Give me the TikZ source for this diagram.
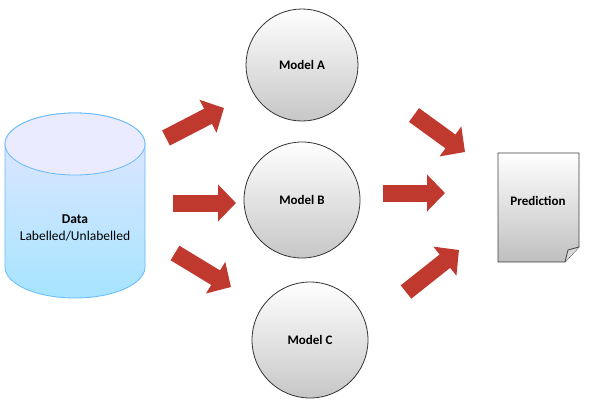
\documentclass[tikz,border=0pt]{standalone}
\usepackage{fontspec}
\setmainfont{Carlito}
\usetikzlibrary{arrows.meta}
\definecolor{brick}{HTML}{C0392F}
\begin{document}
\begin{tikzpicture}[x=1pt,y=-1pt,
  model/.style={circle,draw=black!80,line width=0.8pt,minimum size=112pt,top color=white,bottom color=black!22,font=\bfseries\fontsize{13}{15}\selectfont},
  blk/.style={line width=17pt,-{Triangle[length=18pt,width=36pt]},draw=brick},
  lbl/.style={font=\fontsize{13.5}{17}\selectfont,align=center}]
\useasboundingbox (0,0) rectangle (600,407);
% cylinder
\path[top color=blue!10,bottom color=blue!30!cyan!35,draw=blue!45!cyan!60,line width=0.8pt]
  (5,144) -- (5,267) arc[start angle=180,end angle=0,x radius=70,y radius=31] -- (145,144) arc[start angle=0,end angle=-180,x radius=70,y radius=31] -- cycle;
\draw[blue!45!cyan!60,line width=0.8pt,fill=blue!8] (75,144) ellipse[x radius=70,y radius=31];
\node[lbl] (data) at (75,228) {\textbf{Data}\\Labelled/Unlabelled};
% models
\node[model] (a) at (302,65) {Model A};
\node[model,minimum size=116pt] (b) at (302,200) {Model B};
\node[model,minimum size=116pt] (c) at (310,340) {Model C};
% prediction
\path[draw=black!75,line width=0.8pt,top color=white,bottom color=black!25]
  (498,153) -- (579,153) -- (579,247) -- (565,262) -- (498,262) -- cycle;
\draw[black!75,line width=0.8pt,fill=black!15] (579,247) -- (568,250) -- (565,262);
\node[font=\bfseries\fontsize{13}{15}\selectfont] (p) at (538,201) {Prediction};
% arrows
\coordinate (a1) at (166,138); \coordinate (a2) at (224,108);
\coordinate (b1) at (173,203); \coordinate (b2) at (236,203);
\coordinate (c1) at (175,253); \coordinate (c2) at (231,287);
\coordinate (d1) at (414,115); \coordinate (d2) at (465,152);
\coordinate (e1) at (383,193); \coordinate (e2) at (445,193);
\coordinate (f1) at (406,292); \coordinate (f2) at (459,250);
\foreach \s/\e in {a1/a2,b1/b2,c1/c2,d1/d2,e1/e2,f1/f2}
  \draw[blk] (\s) -- (\e);
\end{tikzpicture}
\end{document}
